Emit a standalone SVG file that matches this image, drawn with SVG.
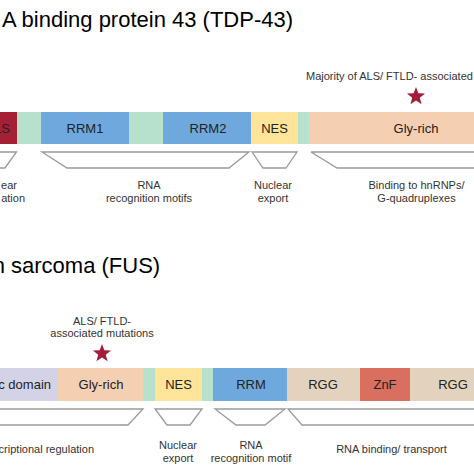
<svg xmlns="http://www.w3.org/2000/svg" width="474" height="474" viewBox="0 0 474 474">
<style>
.t{font-family:"Liberation Sans",Arial,sans-serif;fill:#000}
.title{font-size:22px}
.seg{font-size:13px;fill:#222}
.lab{font-size:11px;fill:#333}
.br{fill:none;stroke:#9a9a9a;stroke-width:1.3}
.star{fill:#a21d3a}
</style>
<rect width="474" height="474" fill="#fff"/>
<text class="t title" x="2" y="27">A binding protein 43 (TDP-43)</text>
<text class="t title" x="-7.3" y="273">n sarcoma (FUS)</text>
<g id="tdp43">
  <g id="tdp-nls"><rect x="-2" y="112" width="19" height="32" fill="#a51f35"/><text class="t seg" x="10" y="133" text-anchor="end">LS</text></g>
  <rect id="tdp-link1" x="17" y="112" width="24" height="32" fill="#b7e1cd"/>
  <g id="tdp-rrm1"><rect x="41" y="112" width="88" height="32" fill="#6fa8dc"/><text class="t seg" x="85" y="133" text-anchor="middle">RRM1</text></g>
  <rect id="tdp-link2" x="129" y="112" width="34" height="32" fill="#b7e1cd"/>
  <g id="tdp-rrm2"><rect x="163" y="112" width="88" height="32" fill="#6fa8dc"/><text class="t seg" x="208" y="133" text-anchor="middle">RRM2</text></g>
  <g id="tdp-nes"><rect x="251" y="112" width="47" height="32" fill="#ffe599"/><text class="t seg" x="274.5" y="133" text-anchor="middle">NES</text></g>
  <rect id="tdp-link3" x="298" y="112" width="11" height="32" fill="#b7e1cd"/>
  <g id="tdp-gly"><rect x="309" y="112" width="170" height="32" fill="#f4cfb2"/><text class="t seg" x="416" y="133" text-anchor="middle">Gly-rich</text></g>
  <g id="tdp-mut"><text class="t lab" x="306" y="80">Majority of ALS/ FTLD- associated</text>
  <polygon class="star" transform="translate(416,96.5) scale(0.95)" points="0,-10 2.469,-3.398 9.511,-3.090 3.995,1.298 5.878,8.090 0,4.2 -5.878,8.090 -3.995,1.298 -9.511,-3.090 -2.469,-3.398"/></g>
</g>
<g id="fus">
  <g id="fus-pld"><rect x="-2" y="368" width="59" height="33" fill="#d4d2e6"/><text class="t seg" x="51" y="389" text-anchor="end">c domain</text></g>
  <g id="fus-gly"><rect x="57" y="368" width="86" height="33" fill="#f4cfb2"/><text class="t seg" x="101" y="389" text-anchor="middle">Gly-rich</text></g>
  <rect id="fus-link1" x="143" y="368" width="12" height="33" fill="#b7e1cd"/>
  <g id="fus-nes"><rect x="155" y="368" width="47" height="33" fill="#ffe599"/><text class="t seg" x="178.5" y="389" text-anchor="middle">NES</text></g>
  <rect id="fus-link2" x="202" y="368" width="11" height="33" fill="#b7e1cd"/>
  <g id="fus-rrm"><rect x="213" y="368" width="74" height="33" fill="#6fa8dc"/><text class="t seg" x="251" y="389" text-anchor="middle">RRM</text></g>
  <g id="fus-rgg1"><rect x="287" y="368" width="73" height="33" fill="#e3d2be"/><text class="t seg" x="323" y="389" text-anchor="middle">RGG</text></g>
  <g id="fus-znf"><rect x="360" y="368" width="50" height="33" fill="#d9705f"/><text class="t seg" x="385" y="389" text-anchor="middle">ZnF</text></g>
  <g id="fus-rgg2"><rect x="410" y="368" width="70" height="33" fill="#e3d2be"/><text class="t seg" x="453" y="389" text-anchor="middle">RGG</text></g>
  <g id="fus-mut"><text class="t lab" x="102" y="324.5" text-anchor="middle">ALS/ FTLD-</text><text class="t lab" x="102" y="337" text-anchor="middle">associated mutations</text>
  <polygon class="star" transform="translate(102,353.5) scale(0.95)" points="0,-10 2.469,-3.398 9.511,-3.090 3.995,1.298 5.878,8.090 0,4.2 -5.878,8.090 -3.995,1.298 -9.511,-3.090 -2.469,-3.398"/></g>
</g>
<g id="connectors">
  <path class="br" d="M-2,152 H16.5 L5,168 H-2"/>
  <path class="br" d="M42,152 H249 L229,168 H67 Z"/>
  <path class="br" d="M252,152 H297 L286,168 H263 Z"/>
  <path class="br" d="M311,152 H480 M480,168 H337 L311,152"/>
  <path class="br" d="M-2,409 H143 L128,425 H-2"/>
  <path class="br" d="M155,409 H202 L190,425 H167 Z"/>
  <path class="br" d="M215,409 H285 L265,425 H236 Z"/>
  <path class="br" d="M480,409 H288 L302,425 H480"/>
</g>
<g id="labels">
  <text class="t lab" x="17" y="189" text-anchor="end">ear</text>
  <text class="t lab" x="25" y="202" text-anchor="end">ation</text>
  <text class="t lab" x="149" y="189" text-anchor="middle">RNA</text>
  <text class="t lab" x="149" y="202" text-anchor="middle">recognition motifs</text>
  <text class="t lab" x="273" y="189" text-anchor="middle">Nuclear</text>
  <text class="t lab" x="273" y="202" text-anchor="middle">export</text>
  <text class="t lab" x="416.5" y="189" text-anchor="middle">Binding to hnRNPs/</text>
  <text class="t lab" x="416.5" y="202" text-anchor="middle">G-quadruplexes</text>
  <text class="t lab" x="94" y="453" text-anchor="end">criptional regulation</text>
  <text class="t lab" x="178" y="449" text-anchor="middle">Nuclear</text>
  <text class="t lab" x="178" y="462" text-anchor="middle">export</text>
  <text class="t lab" x="251" y="449" text-anchor="middle">RNA</text>
  <text class="t lab" x="251" y="462" text-anchor="middle">recognition motif</text>
  <text class="t lab" x="391.5" y="453" text-anchor="middle">RNA binding/ transport</text>
</g>
</svg>
